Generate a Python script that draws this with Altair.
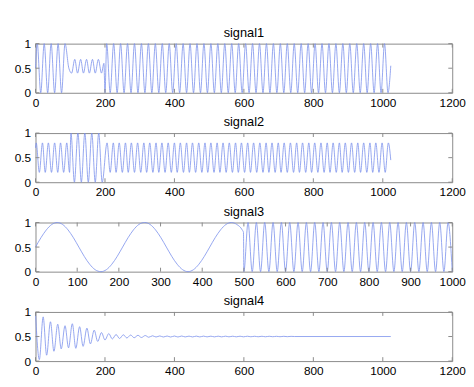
import altair as alt
import pandas as pd

FONT = "Liberation Sans"
LINE = "#7b90ec"
FRAME = "#8a8a8a"
W, H = 424, 50

titles = ["signal1", "signal2", "signal3", "signal4"]
x_ticks_a = [0, 200, 400, 600, 800, 1000, 1200]
x_ticks_b = [0, 100, 200, 300, 400, 500, 600, 700, 800, 900, 1000]
y_ticks = [0, 0.5, 1]

# signal1 turning points
s1_x = [0, 5, 15, 25, 35, 45, 55, 65, 75, 85,
        96, 104, 113, 121, 130, 138, 147, 155, 164, 172,
        181, 190, 197, 200, 205, 215, 225, 235, 245, 255,
        265, 275, 285, 295, 305, 315, 325, 335, 345, 355,
        365, 375, 385, 395, 405, 415, 425, 435, 445, 455,
        465, 475, 485, 495, 505, 515, 525, 535, 545, 555,
        565, 575, 585, 595, 605, 615, 625, 635, 645, 655,
        665, 675, 685, 695, 705, 715, 725, 735, 745, 755,
        765, 775, 785, 795, 805, 815, 825, 835, 845, 855,
        865, 875, 885, 895, 905, 915, 925, 935, 945, 955,
        965, 975, 985, 995, 1005, 1015, 1023]
s1_y = [0.5, 1, 0, 1, 0, 1, 0, 1, 0, 1,
        0.5, 0.4, 0.68, 0.4, 0.68, 0.4, 0.68, 0.4, 0.68, 0.4,
        0.68, 0.4, 0.6, 0, 1, 0, 1, 0, 1, 0,
        1, 0, 1, 0, 1, 0, 1, 0, 1, 0,
        1, 0, 1, 0, 1, 0, 1, 0, 1, 0,
        1, 0, 1, 0, 1, 0, 1, 0, 1, 0,
        1, 0, 1, 0, 1, 0, 1, 0, 1, 0,
        1, 0, 1, 0, 1, 0, 1, 0, 1, 0,
        1, 0, 1, 0, 1, 0, 1, 0, 1, 0,
        1, 0, 1, 0, 1, 0, 1, 0, 1, 0,
        1, 0, 1, 0, 1, 0, 0.55]

# signal2 turning points
s2_x = [0, 2, 11, 20, 28, 37, 46, 55, 64, 72,
        81, 90, 98, 102, 112, 122, 132, 142, 152, 162,
        172, 182, 192, 206, 215, 224, 232, 241, 250, 259,
        267, 276, 285, 294, 303, 312, 320, 329, 338, 347,
        355, 364, 373, 382, 391, 400, 408, 417, 426, 435,
        443, 452, 461, 470, 479, 488, 496, 505, 514, 523,
        531, 540, 549, 558, 567, 576, 584, 593, 602, 611,
        619, 628, 637, 646, 655, 664, 672, 681, 690, 699,
        707, 716, 725, 734, 743, 752, 760, 769, 778, 787,
        795, 804, 813, 822, 831, 840, 848, 857, 866, 875,
        883, 892, 901, 910, 919, 928, 936, 945, 954, 963,
        971, 980, 989, 998, 1007, 1016, 1023]
s2_y = [0.7, 0.8, 0.2, 0.8, 0.2, 0.8, 0.2, 0.8, 0.2, 0.8,
        0.2, 0.8, 0.2, 1, 0, 1, 0, 1, 0, 1,
        0, 1, 0, 0.8, 0.2, 0.8, 0.2, 0.8, 0.2, 0.8,
        0.2, 0.8, 0.2, 0.8, 0.2, 0.8, 0.2, 0.8, 0.2, 0.8,
        0.2, 0.8, 0.2, 0.8, 0.2, 0.8, 0.2, 0.8, 0.2, 0.8,
        0.2, 0.8, 0.2, 0.8, 0.2, 0.8, 0.2, 0.8, 0.2, 0.8,
        0.2, 0.8, 0.2, 0.8, 0.2, 0.8, 0.2, 0.8, 0.2, 0.8,
        0.2, 0.8, 0.2, 0.8, 0.2, 0.8, 0.2, 0.8, 0.2, 0.8,
        0.2, 0.8, 0.2, 0.8, 0.2, 0.8, 0.2, 0.8, 0.2, 0.8,
        0.2, 0.8, 0.2, 0.8, 0.2, 0.8, 0.2, 0.8, 0.2, 0.8,
        0.2, 0.8, 0.2, 0.8, 0.2, 0.8, 0.2, 0.8, 0.2, 0.8,
        0.2, 0.8, 0.2, 0.8, 0.2, 0.8, 0.45]

# signal3 points
s3_x = [0, 13, 26, 39, 52, 65, 78, 91, 104, 117,
        130, 143, 157, 170, 183, 196, 209, 222, 235, 248,
        262, 275, 288, 301, 314, 327, 340, 353, 366, 379,
        392, 405, 418, 431, 444, 457, 470, 483, 496, 499,
        500, 510, 520, 530, 540, 550, 560, 570, 580, 590,
        600, 610, 620, 630, 640, 650, 660, 670, 680, 690,
        700, 710, 720, 730, 740, 750, 760, 770, 780, 790,
        800, 810, 820, 830, 840, 850, 860, 870, 880, 890,
        900, 910, 920, 930, 940, 950, 960, 970, 980, 990,
        1000]
s3_y = [0.5, 0.69, 0.85, 0.96, 1.0, 0.96, 0.85, 0.69, 0.5, 0.31,
        0.15, 0.04, 0.0, 0.04, 0.15, 0.31, 0.5, 0.69, 0.85, 0.96,
        1.0, 0.96, 0.85, 0.69, 0.5, 0.31, 0.15, 0.04, 0.0, 0.04,
        0.15, 0.31, 0.5, 0.69, 0.85, 0.96, 1.0, 0.96, 0.85, 0.8,
        0, 1, 0, 1, 0, 1, 0, 1, 0, 1,
        0, 1, 0, 1, 0, 1, 0, 1, 0, 1,
        0, 1, 0, 1, 0, 1, 0, 1, 0, 1,
        0, 1, 0, 1, 0, 1, 0, 1, 0, 1,
        0, 1, 0, 1, 0, 1, 0, 1, 0, 1,
        0]

# signal4 points
s4_x = [0, 11, 22, 32, 43, 53, 64, 74, 85, 95,
        106, 116, 127, 137, 148, 158, 169, 179, 190, 200,
        211, 221, 232, 242, 253, 263, 274, 284, 295, 305,
        316, 326, 337, 347, 358, 368, 379, 389, 400, 410,
        421, 431, 442, 452, 463, 473, 484, 494, 505, 515,
        526, 536, 547, 557, 568, 578, 589, 599, 610, 620,
        631, 641, 652, 662, 673, 683, 694, 704, 715, 725,
        736, 746, 1023]
s4_y = [0.97, 0.03, 0.9, 0.12, 0.8, 0.2, 0.75, 0.25, 0.72, 0.27,
        0.76, 0.26, 0.7, 0.3, 0.67, 0.35, 0.63, 0.4, 0.58, 0.43,
        0.56, 0.45, 0.54, 0.46, 0.535, 0.47, 0.53, 0.475, 0.525, 0.48,
        0.52, 0.485, 0.515, 0.49, 0.512, 0.49, 0.51, 0.49, 0.51, 0.49,
        0.51, 0.492, 0.508, 0.492, 0.508, 0.492, 0.508, 0.493, 0.507, 0.493,
        0.507, 0.493, 0.507, 0.494, 0.506, 0.494, 0.506, 0.494, 0.506, 0.495,
        0.505, 0.495, 0.505, 0.495, 0.505, 0.496, 0.504, 0.496, 0.504, 0.497,
        0.503, 0.5, 0.5]

signals = [(s1_x, s1_y, x_ticks_a, 1200),
           (s2_x, s2_y, x_ticks_a, 1200),
           (s3_x, s3_y, x_ticks_b, 1000),
           (s4_x, s4_y, x_ticks_a, 1200)]


def panel(xs, ys, title, xticks, xmax):
    xs_scale = alt.Scale(domain=[0, xmax], nice=False, zero=False)
    ys_scale = alt.Scale(domain=[0, 1], nice=False)
    ax = alt.Axis(values=xticks, title=None, grid=False, domain=False,
                  ticks=False, tickSize=0, labelPadding=5, labelFlush=False,
                  labelOverlap=False, labelFontSize=12, labelFont=FONT,
                  labelColor="#000000", format="d")
    ay = alt.Axis(values=y_ticks, title=None, grid=False, domain=False,
                  ticks=False, tickSize=0, labelPadding=5, labelFontSize=12,
                  labelFont=FONT, labelColor="#000000",
                  labelExpr="'' + datum.value")
    df = pd.DataFrame({"x": xs, "y": ys})
    line = alt.Chart(df).mark_line(color=LINE, strokeWidth=0.8,
                                   interpolate="monotone").encode(
        x=alt.X("x:Q", scale=xs_scale, axis=ax),
        y=alt.Y("y:Q", scale=ys_scale, axis=ay),
    )
    tdf = pd.DataFrame({"x": xticks})
    bot = alt.Chart(tdf).mark_rule(color=FRAME, strokeWidth=1).encode(
        x=alt.X("x:Q", scale=xs_scale, axis=ax),
        y=alt.value(H), y2=alt.value(H - 4))
    top = alt.Chart(tdf).mark_rule(color=FRAME, strokeWidth=1).encode(
        x=alt.X("x:Q", scale=xs_scale, axis=ax),
        y=alt.value(0), y2=alt.value(4))
    ydf = pd.DataFrame({"y": y_ticks})
    left = alt.Chart(ydf).mark_rule(color=FRAME, strokeWidth=1).encode(
        y=alt.Y("y:Q", scale=ys_scale, axis=ay),
        x=alt.value(0), x2=alt.value(4))
    right = alt.Chart(ydf).mark_rule(color=FRAME, strokeWidth=1).encode(
        y=alt.Y("y:Q", scale=ys_scale, axis=ay),
        x=alt.value(W - 4), x2=alt.value(W))
    return alt.layer(line, bot, top, left, right).properties(
        width=W, height=H,
        title=alt.Title(title, fontSize=13, font=FONT, fontWeight="normal",
                        color="#000000", baseline="alphabetic", offset=-12,
                        anchor="middle"))


panels = [panel(xs, ys, t, xt, xm) for (xs, ys, xt, xm), t in zip(signals, titles)]

chart = alt.vconcat(*panels, spacing=41, bounds="flush").properties(
    padding={"left": 5, "top": 15, "right": 0, "bottom": 0}
).configure_view(stroke=FRAME, strokeWidth=1)

chart.save("out.html", embed_options={"renderer": "svg", "actions": False})
